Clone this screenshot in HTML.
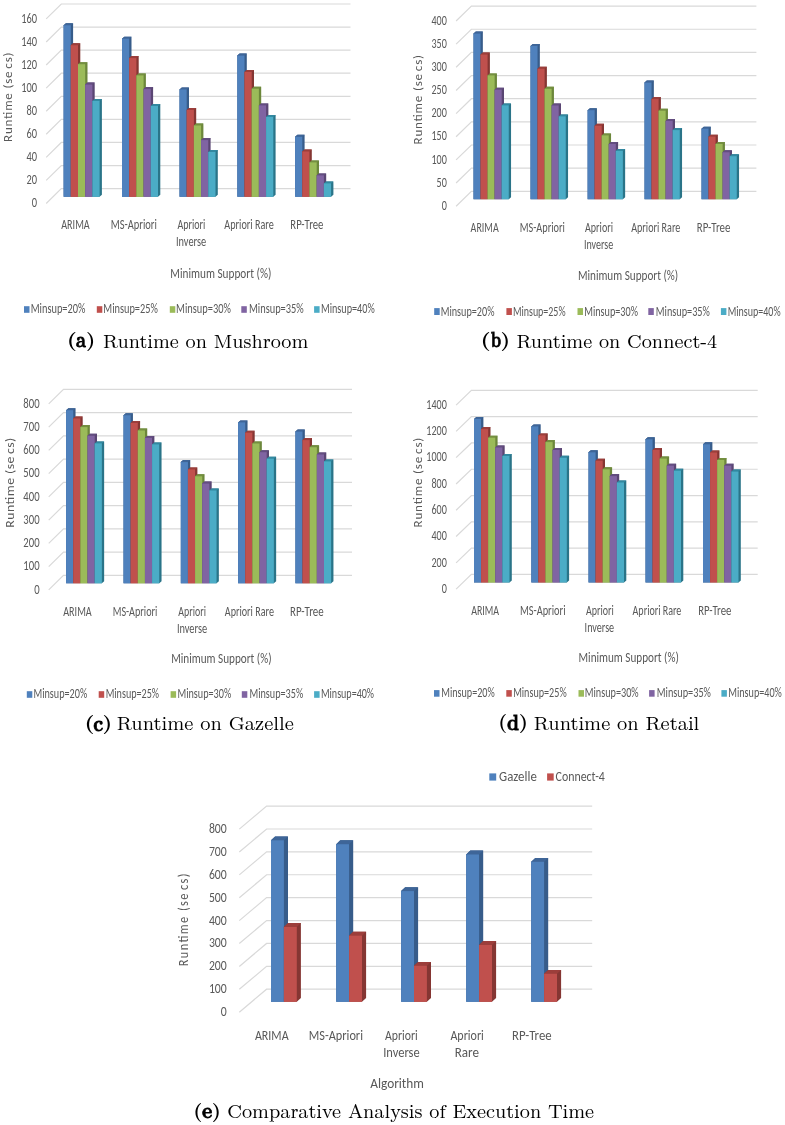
<!DOCTYPE html>
<html><head><meta charset="utf-8"><title>Runtime comparison charts</title>
<style>
html,body{margin:0;padding:0;background:#fff;}
body{width:785px;height:1125px;overflow:hidden;}
svg{display:block;}
</style></head><body>
<svg width="785" height="1125" viewBox="0 0 785 1125">
<rect width="785" height="1125" fill="#fff"/>
<path d="M46.2 203.5L61.3 188.6H350.5M46.2 180.43L61.3 165.53H350.5M46.2 157.35L61.3 142.45H350.5M46.2 134.28L61.3 119.38H350.5M46.2 111.2L61.3 96.3H350.5M46.2 88.12L61.3 73.22H350.5M46.2 65.05L61.3 50.15H350.5M46.2 41.97L61.3 27.07H350.5M46.2 18.9L61.3 4H350.5" fill="none" stroke="#D9D9D9" stroke-width="1.2"/>
<path d="M63.6 25.3L65.9 23.3H73.1V194.8L70.8 196.8H63.6Z" fill="#375C8A"/><path d="M63.6 25.9V25.3L65.9 23.3H73.1L70.8 25.3V25.9Z" fill="#3E6598"/><rect x="63.6" y="25.3" width="7.2" height="171.5" fill="#4F81BD"/>
<path d="M70.8 45.2L73.1 43.2H80.3V194.8L78 196.8H70.8Z" fill="#853633"/><path d="M70.8 45.8V45.2L73.1 43.2H80.3L78 45.2V45.8Z" fill="#9C3E3B"/><rect x="70.8" y="45.2" width="7.2" height="151.6" fill="#C0504D"/>
<path d="M78 64.2L80.3 62.2H87.5V194.8L85.2 196.8H78Z" fill="#6C873B"/><path d="M78 64.8V64.2L80.3 62.2H87.5L85.2 64.2V64.8Z" fill="#748F40"/><rect x="78" y="64.2" width="7.2" height="132.6" fill="#9BBB59"/>
<path d="M85.2 84.6L87.5 82.6H94.7V194.8L92.4 196.8H85.2Z" fill="#5A4673"/><path d="M85.2 85.2V84.6L87.5 82.6H94.7L92.4 84.6V85.2Z" fill="#634D80"/><rect x="85.2" y="84.6" width="7.2" height="112.2" fill="#8064A2"/>
<path d="M92.4 100.9L94.7 98.9H101.9V194.8L99.6 196.8H92.4Z" fill="#2A7488"/><path d="M92.4 101.5V100.9L94.7 98.9H101.9L99.6 100.9V101.5Z" fill="#3288A0"/><rect x="92.4" y="100.9" width="7.2" height="95.9" fill="#4BACC6"/>
<path d="M122 38.7L124.3 36.7H131.5V194.8L129.2 196.8H122Z" fill="#375C8A"/><path d="M122 39.3V38.7L124.3 36.7H131.5L129.2 38.7V39.3Z" fill="#3E6598"/><rect x="122" y="38.7" width="7.2" height="158.1" fill="#4F81BD"/>
<path d="M129.2 58.1L131.5 56.1H138.7V194.8L136.4 196.8H129.2Z" fill="#853633"/><path d="M129.2 58.7V58.1L131.5 56.1H138.7L136.4 58.1V58.7Z" fill="#9C3E3B"/><rect x="129.2" y="58.1" width="7.2" height="138.7" fill="#C0504D"/>
<path d="M136.4 75.4L138.7 73.4H145.9V194.8L143.6 196.8H136.4Z" fill="#6C873B"/><path d="M136.4 76V75.4L138.7 73.4H145.9L143.6 75.4V76Z" fill="#748F40"/><rect x="136.4" y="75.4" width="7.2" height="121.4" fill="#9BBB59"/>
<path d="M143.6 89.1L145.9 87.1H153.1V194.8L150.8 196.8H143.6Z" fill="#5A4673"/><path d="M143.6 89.7V89.1L145.9 87.1H153.1L150.8 89.1V89.7Z" fill="#634D80"/><rect x="143.6" y="89.1" width="7.2" height="107.7" fill="#8064A2"/>
<path d="M150.8 106L153.1 104H160.3V194.8L158 196.8H150.8Z" fill="#2A7488"/><path d="M150.8 106.6V106L153.1 104H160.3L158 106V106.6Z" fill="#3288A0"/><rect x="150.8" y="106" width="7.2" height="90.8" fill="#4BACC6"/>
<path d="M179.5 89.5L181.8 87.5H189V194.8L186.7 196.8H179.5Z" fill="#375C8A"/><path d="M179.5 90.1V89.5L181.8 87.5H189L186.7 89.5V90.1Z" fill="#3E6598"/><rect x="179.5" y="89.5" width="7.2" height="107.3" fill="#4F81BD"/>
<path d="M186.7 109.9L189 107.9H196.2V194.8L193.9 196.8H186.7Z" fill="#853633"/><path d="M186.7 110.5V109.9L189 107.9H196.2L193.9 109.9V110.5Z" fill="#9C3E3B"/><rect x="186.7" y="109.9" width="7.2" height="86.9" fill="#C0504D"/>
<path d="M193.9 125.5L196.2 123.5H203.4V194.8L201.1 196.8H193.9Z" fill="#6C873B"/><path d="M193.9 126.1V125.5L196.2 123.5H203.4L201.1 125.5V126.1Z" fill="#748F40"/><rect x="193.9" y="125.5" width="7.2" height="71.3" fill="#9BBB59"/>
<path d="M201.1 140.1L203.4 138.1H210.6V194.8L208.3 196.8H201.1Z" fill="#5A4673"/><path d="M201.1 140.7V140.1L203.4 138.1H210.6L208.3 140.1V140.7Z" fill="#634D80"/><rect x="201.1" y="140.1" width="7.2" height="56.7" fill="#8064A2"/>
<path d="M208.3 152L210.6 150H217.8V194.8L215.5 196.8H208.3Z" fill="#2A7488"/><path d="M208.3 152.6V152L210.6 150H217.8L215.5 152V152.6Z" fill="#3288A0"/><rect x="208.3" y="152" width="7.2" height="44.8" fill="#4BACC6"/>
<path d="M237.3 55.6L239.6 53.6H246.8V194.8L244.5 196.8H237.3Z" fill="#375C8A"/><path d="M237.3 56.2V55.6L239.6 53.6H246.8L244.5 55.6V56.2Z" fill="#3E6598"/><rect x="237.3" y="55.6" width="7.2" height="141.2" fill="#4F81BD"/>
<path d="M244.5 72L246.8 70H254V194.8L251.7 196.8H244.5Z" fill="#853633"/><path d="M244.5 72.6V72L246.8 70H254L251.7 72V72.6Z" fill="#9C3E3B"/><rect x="244.5" y="72" width="7.2" height="124.8" fill="#C0504D"/>
<path d="M251.7 88.7L254 86.7H261.2V194.8L258.9 196.8H251.7Z" fill="#6C873B"/><path d="M251.7 89.3V88.7L254 86.7H261.2L258.9 88.7V89.3Z" fill="#748F40"/><rect x="251.7" y="88.7" width="7.2" height="108.1" fill="#9BBB59"/>
<path d="M258.9 105.4L261.2 103.4H268.4V194.8L266.1 196.8H258.9Z" fill="#5A4673"/><path d="M258.9 106V105.4L261.2 103.4H268.4L266.1 105.4V106Z" fill="#634D80"/><rect x="258.9" y="105.4" width="7.2" height="91.4" fill="#8064A2"/>
<path d="M266.1 116.9L268.4 114.9H275.6V194.8L273.3 196.8H266.1Z" fill="#2A7488"/><path d="M266.1 117.5V116.9L268.4 114.9H275.6L273.3 116.9V117.5Z" fill="#3288A0"/><rect x="266.1" y="116.9" width="7.2" height="79.9" fill="#4BACC6"/>
<path d="M295.1 136.8L297.4 134.8H304.6V194.8L302.3 196.8H295.1Z" fill="#375C8A"/><path d="M295.1 137.4V136.8L297.4 134.8H304.6L302.3 136.8V137.4Z" fill="#3E6598"/><rect x="295.1" y="136.8" width="7.2" height="60" fill="#4F81BD"/>
<path d="M302.3 151.5L304.6 149.5H311.8V194.8L309.5 196.8H302.3Z" fill="#853633"/><path d="M302.3 152.1V151.5L304.6 149.5H311.8L309.5 151.5V152.1Z" fill="#9C3E3B"/><rect x="302.3" y="151.5" width="7.2" height="45.3" fill="#C0504D"/>
<path d="M309.5 162.4L311.8 160.4H319V194.8L316.7 196.8H309.5Z" fill="#6C873B"/><path d="M309.5 163V162.4L311.8 160.4H319L316.7 162.4V163Z" fill="#748F40"/><rect x="309.5" y="162.4" width="7.2" height="34.4" fill="#9BBB59"/>
<path d="M316.7 175.4L319 173.4H326.2V194.8L323.9 196.8H316.7Z" fill="#5A4673"/><path d="M316.7 176V175.4L319 173.4H326.2L323.9 175.4V176Z" fill="#634D80"/><rect x="316.7" y="175.4" width="7.2" height="21.4" fill="#8064A2"/>
<path d="M323.9 183.4L326.2 181.4H333.4V194.8L331.1 196.8H323.9Z" fill="#2A7488"/><path d="M323.9 184V183.4L326.2 181.4H333.4L331.1 183.4V184Z" fill="#3288A0"/><rect x="323.9" y="183.4" width="7.2" height="13.4" fill="#4BACC6"/>
<rect x="24" y="306.2" width="5.5" height="6.6" fill="#4F81BD"/>
<rect x="96.8" y="306.2" width="5.5" height="6.6" fill="#C0504D"/>
<rect x="169.8" y="306.2" width="5.5" height="6.6" fill="#9BBB59"/>
<rect x="241.3" y="306.2" width="5.5" height="6.6" fill="#8064A2"/>
<rect x="314.1" y="306.2" width="5.5" height="6.6" fill="#4BACC6"/>
<path d="M456.1 206.2L471.4 191.3H756.4M456.1 183.05L471.4 168.15H756.4M456.1 159.9L471.4 145H756.4M456.1 136.75L471.4 121.85H756.4M456.1 113.6L471.4 98.7H756.4M456.1 90.45L471.4 75.55H756.4M456.1 67.3L471.4 52.4H756.4M456.1 44.15L471.4 29.25H756.4M456.1 21L471.4 6.1H756.4" fill="none" stroke="#D9D9D9" stroke-width="1.2"/>
<path d="M473.5 33.6L475.8 31.6H482.85V197.2L480.55 199.2H473.5Z" fill="#375C8A"/><path d="M473.5 34.2V33.6L475.8 31.6H482.85L480.55 33.6V34.2Z" fill="#3E6598"/><rect x="473.5" y="33.6" width="7.05" height="165.6" fill="#4F81BD"/>
<path d="M480.55 54.6L482.85 52.6H489.9V197.2L487.6 199.2H480.55Z" fill="#853633"/><path d="M480.55 55.2V54.6L482.85 52.6H489.9L487.6 54.6V55.2Z" fill="#9C3E3B"/><rect x="480.55" y="54.6" width="7.05" height="144.6" fill="#C0504D"/>
<path d="M487.6 75.4L489.9 73.4H496.95V197.2L494.65 199.2H487.6Z" fill="#6C873B"/><path d="M487.6 76V75.4L489.9 73.4H496.95L494.65 75.4V76Z" fill="#748F40"/><rect x="487.6" y="75.4" width="7.05" height="123.8" fill="#9BBB59"/>
<path d="M494.65 89.7L496.95 87.7H504V197.2L501.7 199.2H494.65Z" fill="#5A4673"/><path d="M494.65 90.3V89.7L496.95 87.7H504L501.7 89.7V90.3Z" fill="#634D80"/><rect x="494.65" y="89.7" width="7.05" height="109.5" fill="#8064A2"/>
<path d="M501.7 105.4L504 103.4H511.05V197.2L508.75 199.2H501.7Z" fill="#2A7488"/><path d="M501.7 106V105.4L504 103.4H511.05L508.75 105.4V106Z" fill="#3288A0"/><rect x="501.7" y="105.4" width="7.05" height="93.8" fill="#4BACC6"/>
<path d="M530.5 45.9L532.8 43.9H539.85V197.2L537.55 199.2H530.5Z" fill="#375C8A"/><path d="M530.5 46.5V45.9L532.8 43.9H539.85L537.55 45.9V46.5Z" fill="#3E6598"/><rect x="530.5" y="45.9" width="7.05" height="153.3" fill="#4F81BD"/>
<path d="M537.55 68.8L539.85 66.8H546.9V197.2L544.6 199.2H537.55Z" fill="#853633"/><path d="M537.55 69.4V68.8L539.85 66.8H546.9L544.6 68.8V69.4Z" fill="#9C3E3B"/><rect x="537.55" y="68.8" width="7.05" height="130.4" fill="#C0504D"/>
<path d="M544.6 88.8L546.9 86.8H553.95V197.2L551.65 199.2H544.6Z" fill="#6C873B"/><path d="M544.6 89.4V88.8L546.9 86.8H553.95L551.65 88.8V89.4Z" fill="#748F40"/><rect x="544.6" y="88.8" width="7.05" height="110.4" fill="#9BBB59"/>
<path d="M551.65 105.5L553.95 103.5H561V197.2L558.7 199.2H551.65Z" fill="#5A4673"/><path d="M551.65 106.1V105.5L553.95 103.5H561L558.7 105.5V106.1Z" fill="#634D80"/><rect x="551.65" y="105.5" width="7.05" height="93.7" fill="#8064A2"/>
<path d="M558.7 116.4L561 114.4H568.05V197.2L565.75 199.2H558.7Z" fill="#2A7488"/><path d="M558.7 117V116.4L561 114.4H568.05L565.75 116.4V117Z" fill="#3288A0"/><rect x="558.7" y="116.4" width="7.05" height="82.8" fill="#4BACC6"/>
<path d="M587.6 110.2L589.9 108.2H596.95V197.2L594.65 199.2H587.6Z" fill="#375C8A"/><path d="M587.6 110.8V110.2L589.9 108.2H596.95L594.65 110.2V110.8Z" fill="#3E6598"/><rect x="587.6" y="110.2" width="7.05" height="89" fill="#4F81BD"/>
<path d="M594.65 125.8L596.95 123.8H604V197.2L601.7 199.2H594.65Z" fill="#853633"/><path d="M594.65 126.4V125.8L596.95 123.8H604L601.7 125.8V126.4Z" fill="#9C3E3B"/><rect x="594.65" y="125.8" width="7.05" height="73.4" fill="#C0504D"/>
<path d="M601.7 135.4L604 133.4H611.05V197.2L608.75 199.2H601.7Z" fill="#6C873B"/><path d="M601.7 136V135.4L604 133.4H611.05L608.75 135.4V136Z" fill="#748F40"/><rect x="601.7" y="135.4" width="7.05" height="63.8" fill="#9BBB59"/>
<path d="M608.75 144L611.05 142H618.1V197.2L615.8 199.2H608.75Z" fill="#5A4673"/><path d="M608.75 144.6V144L611.05 142H618.1L615.8 144V144.6Z" fill="#634D80"/><rect x="608.75" y="144" width="7.05" height="55.2" fill="#8064A2"/>
<path d="M615.8 150.9L618.1 148.9H625.15V197.2L622.85 199.2H615.8Z" fill="#2A7488"/><path d="M615.8 151.5V150.9L618.1 148.9H625.15L622.85 150.9V151.5Z" fill="#3288A0"/><rect x="615.8" y="150.9" width="7.05" height="48.3" fill="#4BACC6"/>
<path d="M644.5 82.6L646.8 80.6H653.85V197.2L651.55 199.2H644.5Z" fill="#375C8A"/><path d="M644.5 83.2V82.6L646.8 80.6H653.85L651.55 82.6V83.2Z" fill="#3E6598"/><rect x="644.5" y="82.6" width="7.05" height="116.6" fill="#4F81BD"/>
<path d="M651.55 99.1L653.85 97.1H660.9V197.2L658.6 199.2H651.55Z" fill="#853633"/><path d="M651.55 99.7V99.1L653.85 97.1H660.9L658.6 99.1V99.7Z" fill="#9C3E3B"/><rect x="651.55" y="99.1" width="7.05" height="100.1" fill="#C0504D"/>
<path d="M658.6 110.7L660.9 108.7H667.95V197.2L665.65 199.2H658.6Z" fill="#6C873B"/><path d="M658.6 111.3V110.7L660.9 108.7H667.95L665.65 110.7V111.3Z" fill="#748F40"/><rect x="658.6" y="110.7" width="7.05" height="88.5" fill="#9BBB59"/>
<path d="M665.65 120.9L667.95 118.9H675V197.2L672.7 199.2H665.65Z" fill="#5A4673"/><path d="M665.65 121.5V120.9L667.95 118.9H675L672.7 120.9V121.5Z" fill="#634D80"/><rect x="665.65" y="120.9" width="7.05" height="78.3" fill="#8064A2"/>
<path d="M672.7 130.1L675 128.1H682.05V197.2L679.75 199.2H672.7Z" fill="#2A7488"/><path d="M672.7 130.7V130.1L675 128.1H682.05L679.75 130.1V130.7Z" fill="#3288A0"/><rect x="672.7" y="130.1" width="7.05" height="69.1" fill="#4BACC6"/>
<path d="M701.5 128.7L703.8 126.7H710.85V197.2L708.55 199.2H701.5Z" fill="#375C8A"/><path d="M701.5 129.3V128.7L703.8 126.7H710.85L708.55 128.7V129.3Z" fill="#3E6598"/><rect x="701.5" y="128.7" width="7.05" height="70.5" fill="#4F81BD"/>
<path d="M708.55 136.7L710.85 134.7H717.9V197.2L715.6 199.2H708.55Z" fill="#853633"/><path d="M708.55 137.3V136.7L710.85 134.7H717.9L715.6 136.7V137.3Z" fill="#9C3E3B"/><rect x="708.55" y="136.7" width="7.05" height="62.5" fill="#C0504D"/>
<path d="M715.6 144L717.9 142H724.95V197.2L722.65 199.2H715.6Z" fill="#6C873B"/><path d="M715.6 144.6V144L717.9 142H724.95L722.65 144V144.6Z" fill="#748F40"/><rect x="715.6" y="144" width="7.05" height="55.2" fill="#9BBB59"/>
<path d="M722.65 152.3L724.95 150.3H732V197.2L729.7 199.2H722.65Z" fill="#5A4673"/><path d="M722.65 152.9V152.3L724.95 150.3H732L729.7 152.3V152.9Z" fill="#634D80"/><rect x="722.65" y="152.3" width="7.05" height="46.9" fill="#8064A2"/>
<path d="M729.7 156.2L732 154.2H739.05V197.2L736.75 199.2H729.7Z" fill="#2A7488"/><path d="M729.7 156.8V156.2L732 154.2H739.05L736.75 156.2V156.8Z" fill="#3288A0"/><rect x="729.7" y="156.2" width="7.05" height="43" fill="#4BACC6"/>
<rect x="434.2" y="308.1" width="5.5" height="6.9" fill="#4F81BD"/>
<rect x="506.4" y="308.1" width="5.5" height="6.9" fill="#C0504D"/>
<rect x="577.5" y="308.1" width="5.5" height="6.9" fill="#9BBB59"/>
<rect x="648.3" y="308.1" width="5.5" height="6.9" fill="#8064A2"/>
<rect x="720.9" y="308.1" width="5.5" height="6.9" fill="#4BACC6"/>
<path d="M48.7 589.9L63.5 575.3H352M48.7 566.65L63.5 552.05H352M48.7 543.4L63.5 528.8H352M48.7 520.15L63.5 505.55H352M48.7 496.9L63.5 482.3H352M48.7 473.65L63.5 459.05H352M48.7 450.4L63.5 435.8H352M48.7 427.15L63.5 412.55H352M48.7 403.9L63.5 389.3H352" fill="none" stroke="#D9D9D9" stroke-width="1.2"/>
<path d="M66.1 410.2L68.4 408.2H75.55V581.3L73.25 583.3H66.1Z" fill="#375C8A"/><path d="M66.1 410.8V410.2L68.4 408.2H75.55L73.25 410.2V410.8Z" fill="#3E6598"/><rect x="66.1" y="410.2" width="7.15" height="173.1" fill="#4F81BD"/>
<path d="M73.25 418.5L75.55 416.5H82.7V581.3L80.4 583.3H73.25Z" fill="#853633"/><path d="M73.25 419.1V418.5L75.55 416.5H82.7L80.4 418.5V419.1Z" fill="#9C3E3B"/><rect x="73.25" y="418.5" width="7.15" height="164.8" fill="#C0504D"/>
<path d="M80.4 427.1L82.7 425.1H89.85V581.3L87.55 583.3H80.4Z" fill="#6C873B"/><path d="M80.4 427.7V427.1L82.7 425.1H89.85L87.55 427.1V427.7Z" fill="#748F40"/><rect x="80.4" y="427.1" width="7.15" height="156.2" fill="#9BBB59"/>
<path d="M87.55 435.8L89.85 433.8H97V581.3L94.7 583.3H87.55Z" fill="#5A4673"/><path d="M87.55 436.4V435.8L89.85 433.8H97L94.7 435.8V436.4Z" fill="#634D80"/><rect x="87.55" y="435.8" width="7.15" height="147.5" fill="#8064A2"/>
<path d="M94.7 443.4L97 441.4H104.15V581.3L101.85 583.3H94.7Z" fill="#2A7488"/><path d="M94.7 444V443.4L97 441.4H104.15L101.85 443.4V444Z" fill="#3288A0"/><rect x="94.7" y="443.4" width="7.15" height="139.9" fill="#4BACC6"/>
<path d="M123.5 415.3L125.8 413.3H132.95V581.3L130.65 583.3H123.5Z" fill="#375C8A"/><path d="M123.5 415.9V415.3L125.8 413.3H132.95L130.65 415.3V415.9Z" fill="#3E6598"/><rect x="123.5" y="415.3" width="7.15" height="168" fill="#4F81BD"/>
<path d="M130.65 423L132.95 421H140.1V581.3L137.8 583.3H130.65Z" fill="#853633"/><path d="M130.65 423.6V423L132.95 421H140.1L137.8 423V423.6Z" fill="#9C3E3B"/><rect x="130.65" y="423" width="7.15" height="160.3" fill="#C0504D"/>
<path d="M137.8 430.5L140.1 428.5H147.25V581.3L144.95 583.3H137.8Z" fill="#6C873B"/><path d="M137.8 431.1V430.5L140.1 428.5H147.25L144.95 430.5V431.1Z" fill="#748F40"/><rect x="137.8" y="430.5" width="7.15" height="152.8" fill="#9BBB59"/>
<path d="M144.95 437.9L147.25 435.9H154.4V581.3L152.1 583.3H144.95Z" fill="#5A4673"/><path d="M144.95 438.5V437.9L147.25 435.9H154.4L152.1 437.9V438.5Z" fill="#634D80"/><rect x="144.95" y="437.9" width="7.15" height="145.4" fill="#8064A2"/>
<path d="M152.1 444.4L154.4 442.4H161.55V581.3L159.25 583.3H152.1Z" fill="#2A7488"/><path d="M152.1 445V444.4L154.4 442.4H161.55L159.25 444.4V445Z" fill="#3288A0"/><rect x="152.1" y="444.4" width="7.15" height="138.9" fill="#4BACC6"/>
<path d="M180.8 462.1L183.1 460.1H190.25V581.3L187.95 583.3H180.8Z" fill="#375C8A"/><path d="M180.8 462.7V462.1L183.1 460.1H190.25L187.95 462.1V462.7Z" fill="#3E6598"/><rect x="180.8" y="462.1" width="7.15" height="121.2" fill="#4F81BD"/>
<path d="M187.95 469.4L190.25 467.4H197.4V581.3L195.1 583.3H187.95Z" fill="#853633"/><path d="M187.95 470V469.4L190.25 467.4H197.4L195.1 469.4V470Z" fill="#9C3E3B"/><rect x="187.95" y="469.4" width="7.15" height="113.9" fill="#C0504D"/>
<path d="M195.1 476.3L197.4 474.3H204.55V581.3L202.25 583.3H195.1Z" fill="#6C873B"/><path d="M195.1 476.9V476.3L197.4 474.3H204.55L202.25 476.3V476.9Z" fill="#748F40"/><rect x="195.1" y="476.3" width="7.15" height="107" fill="#9BBB59"/>
<path d="M202.25 483.6L204.55 481.6H211.7V581.3L209.4 583.3H202.25Z" fill="#5A4673"/><path d="M202.25 484.2V483.6L204.55 481.6H211.7L209.4 483.6V484.2Z" fill="#634D80"/><rect x="202.25" y="483.6" width="7.15" height="99.7" fill="#8064A2"/>
<path d="M209.4 490.5L211.7 488.5H218.85V581.3L216.55 583.3H209.4Z" fill="#2A7488"/><path d="M209.4 491.1V490.5L211.7 488.5H218.85L216.55 490.5V491.1Z" fill="#3288A0"/><rect x="209.4" y="490.5" width="7.15" height="92.8" fill="#4BACC6"/>
<path d="M238.1 422.4L240.4 420.4H247.55V581.3L245.25 583.3H238.1Z" fill="#375C8A"/><path d="M238.1 423V422.4L240.4 420.4H247.55L245.25 422.4V423Z" fill="#3E6598"/><rect x="238.1" y="422.4" width="7.15" height="160.9" fill="#4F81BD"/>
<path d="M245.25 432.7L247.55 430.7H254.7V581.3L252.4 583.3H245.25Z" fill="#853633"/><path d="M245.25 433.3V432.7L247.55 430.7H254.7L252.4 432.7V433.3Z" fill="#9C3E3B"/><rect x="245.25" y="432.7" width="7.15" height="150.6" fill="#C0504D"/>
<path d="M252.4 443.5L254.7 441.5H261.85V581.3L259.55 583.3H252.4Z" fill="#6C873B"/><path d="M252.4 444.1V443.5L254.7 441.5H261.85L259.55 443.5V444.1Z" fill="#748F40"/><rect x="252.4" y="443.5" width="7.15" height="139.8" fill="#9BBB59"/>
<path d="M259.55 452.2L261.85 450.2H269V581.3L266.7 583.3H259.55Z" fill="#5A4673"/><path d="M259.55 452.8V452.2L261.85 450.2H269L266.7 452.2V452.8Z" fill="#634D80"/><rect x="259.55" y="452.2" width="7.15" height="131.1" fill="#8064A2"/>
<path d="M266.7 458.7L269 456.7H276.15V581.3L273.85 583.3H266.7Z" fill="#2A7488"/><path d="M266.7 459.3V458.7L269 456.7H276.15L273.85 458.7V459.3Z" fill="#3288A0"/><rect x="266.7" y="458.7" width="7.15" height="124.6" fill="#4BACC6"/>
<path d="M295.4 431.6L297.7 429.6H304.85V581.3L302.55 583.3H295.4Z" fill="#375C8A"/><path d="M295.4 432.2V431.6L297.7 429.6H304.85L302.55 431.6V432.2Z" fill="#3E6598"/><rect x="295.4" y="431.6" width="7.15" height="151.7" fill="#4F81BD"/>
<path d="M302.55 440.1L304.85 438.1H312V581.3L309.7 583.3H302.55Z" fill="#853633"/><path d="M302.55 440.7V440.1L304.85 438.1H312L309.7 440.1V440.7Z" fill="#9C3E3B"/><rect x="302.55" y="440.1" width="7.15" height="143.2" fill="#C0504D"/>
<path d="M309.7 447.2L312 445.2H319.15V581.3L316.85 583.3H309.7Z" fill="#6C873B"/><path d="M309.7 447.8V447.2L312 445.2H319.15L316.85 447.2V447.8Z" fill="#748F40"/><rect x="309.7" y="447.2" width="7.15" height="136.1" fill="#9BBB59"/>
<path d="M316.85 454.5L319.15 452.5H326.3V581.3L324 583.3H316.85Z" fill="#5A4673"/><path d="M316.85 455.1V454.5L319.15 452.5H326.3L324 454.5V455.1Z" fill="#634D80"/><rect x="316.85" y="454.5" width="7.15" height="128.8" fill="#8064A2"/>
<path d="M324 461.4L326.3 459.4H333.45V581.3L331.15 583.3H324Z" fill="#2A7488"/><path d="M324 462V461.4L326.3 459.4H333.45L331.15 461.4V462Z" fill="#3288A0"/><rect x="324" y="461.4" width="7.15" height="121.9" fill="#4BACC6"/>
<rect x="26.8" y="691.2" width="5.5" height="6.6" fill="#4F81BD"/>
<rect x="98.7" y="691.2" width="5.5" height="6.6" fill="#C0504D"/>
<rect x="170.6" y="691.2" width="5.5" height="6.6" fill="#9BBB59"/>
<rect x="241.8" y="691.2" width="5.5" height="6.6" fill="#8064A2"/>
<rect x="314.1" y="691.2" width="5.5" height="6.6" fill="#4BACC6"/>
<path d="M456.1 589.1L471.4 574.4H757.7M456.1 562.81L471.4 548.11H757.7M456.1 536.53L471.4 521.83H757.7M456.1 510.24L471.4 495.54H757.7M456.1 483.96L471.4 469.26H757.7M456.1 457.67L471.4 442.97H757.7M456.1 431.39L471.4 416.69H757.7M456.1 405.1L471.4 390.4H757.7" fill="none" stroke="#D9D9D9" stroke-width="1.2"/>
<path d="M474 418.9L476.3 416.9H483.4V580.4L481.1 582.4H474Z" fill="#375C8A"/><path d="M474 419.5V418.9L476.3 416.9H483.4L481.1 418.9V419.5Z" fill="#3E6598"/><rect x="474" y="418.9" width="7.1" height="163.5" fill="#4F81BD"/>
<path d="M481.1 429.1L483.4 427.1H490.5V580.4L488.2 582.4H481.1Z" fill="#853633"/><path d="M481.1 429.7V429.1L483.4 427.1H490.5L488.2 429.1V429.7Z" fill="#9C3E3B"/><rect x="481.1" y="429.1" width="7.1" height="153.3" fill="#C0504D"/>
<path d="M488.2 437.7L490.5 435.7H497.6V580.4L495.3 582.4H488.2Z" fill="#6C873B"/><path d="M488.2 438.3V437.7L490.5 435.7H497.6L495.3 437.7V438.3Z" fill="#748F40"/><rect x="488.2" y="437.7" width="7.1" height="144.7" fill="#9BBB59"/>
<path d="M495.3 447.5L497.6 445.5H504.7V580.4L502.4 582.4H495.3Z" fill="#5A4673"/><path d="M495.3 448.1V447.5L497.6 445.5H504.7L502.4 447.5V448.1Z" fill="#634D80"/><rect x="495.3" y="447.5" width="7.1" height="134.9" fill="#8064A2"/>
<path d="M502.4 456L504.7 454H511.8V580.4L509.5 582.4H502.4Z" fill="#2A7488"/><path d="M502.4 456.6V456L504.7 454H511.8L509.5 456V456.6Z" fill="#3288A0"/><rect x="502.4" y="456" width="7.1" height="126.4" fill="#4BACC6"/>
<path d="M531.3 426.4L533.6 424.4H540.7V580.4L538.4 582.4H531.3Z" fill="#375C8A"/><path d="M531.3 427V426.4L533.6 424.4H540.7L538.4 426.4V427Z" fill="#3E6598"/><rect x="531.3" y="426.4" width="7.1" height="156" fill="#4F81BD"/>
<path d="M538.4 435.4L540.7 433.4H547.8V580.4L545.5 582.4H538.4Z" fill="#853633"/><path d="M538.4 436V435.4L540.7 433.4H547.8L545.5 435.4V436Z" fill="#9C3E3B"/><rect x="538.4" y="435.4" width="7.1" height="147" fill="#C0504D"/>
<path d="M545.5 442.1L547.8 440.1H554.9V580.4L552.6 582.4H545.5Z" fill="#6C873B"/><path d="M545.5 442.7V442.1L547.8 440.1H554.9L552.6 442.1V442.7Z" fill="#748F40"/><rect x="545.5" y="442.1" width="7.1" height="140.3" fill="#9BBB59"/>
<path d="M552.6 450L554.9 448H562V580.4L559.7 582.4H552.6Z" fill="#5A4673"/><path d="M552.6 450.6V450L554.9 448H562L559.7 450V450.6Z" fill="#634D80"/><rect x="552.6" y="450" width="7.1" height="132.4" fill="#8064A2"/>
<path d="M559.7 457.8L562 455.8H569.1V580.4L566.8 582.4H559.7Z" fill="#2A7488"/><path d="M559.7 458.4V457.8L562 455.8H569.1L566.8 457.8V458.4Z" fill="#3288A0"/><rect x="559.7" y="457.8" width="7.1" height="124.6" fill="#4BACC6"/>
<path d="M588.5 452.3L590.8 450.3H597.9V580.4L595.6 582.4H588.5Z" fill="#375C8A"/><path d="M588.5 452.9V452.3L590.8 450.3H597.9L595.6 452.3V452.9Z" fill="#3E6598"/><rect x="588.5" y="452.3" width="7.1" height="130.1" fill="#4F81BD"/>
<path d="M595.6 460.8L597.9 458.8H605V580.4L602.7 582.4H595.6Z" fill="#853633"/><path d="M595.6 461.4V460.8L597.9 458.8H605L602.7 460.8V461.4Z" fill="#9C3E3B"/><rect x="595.6" y="460.8" width="7.1" height="121.6" fill="#C0504D"/>
<path d="M602.7 469.3L605 467.3H612.1V580.4L609.8 582.4H602.7Z" fill="#6C873B"/><path d="M602.7 469.9V469.3L605 467.3H612.1L609.8 469.3V469.9Z" fill="#748F40"/><rect x="602.7" y="469.3" width="7.1" height="113.1" fill="#9BBB59"/>
<path d="M609.8 476.1L612.1 474.1H619.2V580.4L616.9 582.4H609.8Z" fill="#5A4673"/><path d="M609.8 476.7V476.1L612.1 474.1H619.2L616.9 476.1V476.7Z" fill="#634D80"/><rect x="609.8" y="476.1" width="7.1" height="106.3" fill="#8064A2"/>
<path d="M616.9 482.5L619.2 480.5H626.3V580.4L624 582.4H616.9Z" fill="#2A7488"/><path d="M616.9 483.1V482.5L619.2 480.5H626.3L624 482.5V483.1Z" fill="#3288A0"/><rect x="616.9" y="482.5" width="7.1" height="99.9" fill="#4BACC6"/>
<path d="M645.5 439.3L647.8 437.3H654.9V580.4L652.6 582.4H645.5Z" fill="#375C8A"/><path d="M645.5 439.9V439.3L647.8 437.3H654.9L652.6 439.3V439.9Z" fill="#3E6598"/><rect x="645.5" y="439.3" width="7.1" height="143.1" fill="#4F81BD"/>
<path d="M652.6 449.9L654.9 447.9H662V580.4L659.7 582.4H652.6Z" fill="#853633"/><path d="M652.6 450.5V449.9L654.9 447.9H662L659.7 449.9V450.5Z" fill="#9C3E3B"/><rect x="652.6" y="449.9" width="7.1" height="132.5" fill="#C0504D"/>
<path d="M659.7 458.6L662 456.6H669.1V580.4L666.8 582.4H659.7Z" fill="#6C873B"/><path d="M659.7 459.2V458.6L662 456.6H669.1L666.8 458.6V459.2Z" fill="#748F40"/><rect x="659.7" y="458.6" width="7.1" height="123.8" fill="#9BBB59"/>
<path d="M666.8 465.7L669.1 463.7H676.2V580.4L673.9 582.4H666.8Z" fill="#5A4673"/><path d="M666.8 466.3V465.7L669.1 463.7H676.2L673.9 465.7V466.3Z" fill="#634D80"/><rect x="666.8" y="465.7" width="7.1" height="116.7" fill="#8064A2"/>
<path d="M673.9 470.7L676.2 468.7H683.3V580.4L681 582.4H673.9Z" fill="#2A7488"/><path d="M673.9 471.3V470.7L676.2 468.7H683.3L681 470.7V471.3Z" fill="#3288A0"/><rect x="673.9" y="470.7" width="7.1" height="111.7" fill="#4BACC6"/>
<path d="M703 444.3L705.3 442.3H712.4V580.4L710.1 582.4H703Z" fill="#375C8A"/><path d="M703 444.9V444.3L705.3 442.3H712.4L710.1 444.3V444.9Z" fill="#3E6598"/><rect x="703" y="444.3" width="7.1" height="138.1" fill="#4F81BD"/>
<path d="M710.1 452.6L712.4 450.6H719.5V580.4L717.2 582.4H710.1Z" fill="#853633"/><path d="M710.1 453.2V452.6L712.4 450.6H719.5L717.2 452.6V453.2Z" fill="#9C3E3B"/><rect x="710.1" y="452.6" width="7.1" height="129.8" fill="#C0504D"/>
<path d="M717.2 460L719.5 458H726.6V580.4L724.3 582.4H717.2Z" fill="#6C873B"/><path d="M717.2 460.6V460L719.5 458H726.6L724.3 460V460.6Z" fill="#748F40"/><rect x="717.2" y="460" width="7.1" height="122.4" fill="#9BBB59"/>
<path d="M724.3 465.7L726.6 463.7H733.7V580.4L731.4 582.4H724.3Z" fill="#5A4673"/><path d="M724.3 466.3V465.7L726.6 463.7H733.7L731.4 465.7V466.3Z" fill="#634D80"/><rect x="724.3" y="465.7" width="7.1" height="116.7" fill="#8064A2"/>
<path d="M731.4 471.6L733.7 469.6H740.8V580.4L738.5 582.4H731.4Z" fill="#2A7488"/><path d="M731.4 472.2V471.6L733.7 469.6H740.8L738.5 471.6V472.2Z" fill="#3288A0"/><rect x="731.4" y="471.6" width="7.1" height="110.8" fill="#4BACC6"/>
<rect x="434" y="690.1" width="5.5" height="6.6" fill="#4F81BD"/>
<rect x="506.3" y="690.1" width="5.5" height="6.6" fill="#C0504D"/>
<rect x="578.5" y="690.1" width="5.5" height="6.6" fill="#9BBB59"/>
<rect x="649.1" y="690.1" width="5.5" height="6.6" fill="#8064A2"/>
<rect x="721.4" y="690.1" width="5.5" height="6.6" fill="#4BACC6"/>
<path d="M239.3 1012.2L266.6 989.2H592.2M239.3 989.31L266.6 966.31H592.2M239.3 966.43L266.6 943.43H592.2M239.3 943.54L266.6 920.54H592.2M239.3 920.65L266.6 897.65H592.2M239.3 897.76L266.6 874.76H592.2M239.3 874.88L266.6 851.88H592.2M239.3 851.99L266.6 828.99H592.2M239.3 829.1L266.6 806.1H592.2" fill="none" stroke="#D9D9D9" stroke-width="1.2"/>
<path d="M271 840.3L275.1 836.4H288V997.9L283.9 1001.8H271Z" fill="#375C8A"/><path d="M271 840.9V840.3L275.1 836.4H288L283.9 840.3V840.9Z" fill="#3E6598"/><rect x="271" y="840.3" width="12.9" height="161.5" fill="#4F81BD"/>
<path d="M283.9 927L288 923.1H300.9V997.9L296.8 1001.8H283.9Z" fill="#853633"/><path d="M283.9 927.6V927L288 923.1H300.9L296.8 927V927.6Z" fill="#9C3E3B"/><rect x="283.9" y="927" width="12.9" height="74.8" fill="#C0504D"/>
<path d="M336.2 844.2L340.3 840.3H353.2V997.9L349.1 1001.8H336.2Z" fill="#375C8A"/><path d="M336.2 844.8V844.2L340.3 840.3H353.2L349.1 844.2V844.8Z" fill="#3E6598"/><rect x="336.2" y="844.2" width="12.9" height="157.6" fill="#4F81BD"/>
<path d="M349.1 935.7L353.2 931.8H366.1V997.9L362 1001.8H349.1Z" fill="#853633"/><path d="M349.1 936.3V935.7L353.2 931.8H366.1L362 935.7V936.3Z" fill="#9C3E3B"/><rect x="349.1" y="935.7" width="12.9" height="66.1" fill="#C0504D"/>
<path d="M401.1 891.1L405.2 887.2H418.1V997.9L414 1001.8H401.1Z" fill="#375C8A"/><path d="M401.1 891.7V891.1L405.2 887.2H418.1L414 891.1V891.7Z" fill="#3E6598"/><rect x="401.1" y="891.1" width="12.9" height="110.7" fill="#4F81BD"/>
<path d="M414 965.8L418.1 961.9H431V997.9L426.9 1001.8H414Z" fill="#853633"/><path d="M414 966.4V965.8L418.1 961.9H431L426.9 965.8V966.4Z" fill="#9C3E3B"/><rect x="414" y="965.8" width="12.9" height="36" fill="#C0504D"/>
<path d="M466.2 854.5L470.3 850.6H483.2V997.9L479.1 1001.8H466.2Z" fill="#375C8A"/><path d="M466.2 855.1V854.5L470.3 850.6H483.2L479.1 854.5V855.1Z" fill="#3E6598"/><rect x="466.2" y="854.5" width="12.9" height="147.3" fill="#4F81BD"/>
<path d="M479.1 945L483.2 941.1H496.1V997.9L492 1001.8H479.1Z" fill="#853633"/><path d="M479.1 945.6V945L483.2 941.1H496.1L492 945V945.6Z" fill="#9C3E3B"/><rect x="479.1" y="945" width="12.9" height="56.8" fill="#C0504D"/>
<path d="M531.2 861.8L535.3 857.9H548.2V997.9L544.1 1001.8H531.2Z" fill="#375C8A"/><path d="M531.2 862.4V861.8L535.3 857.9H548.2L544.1 861.8V862.4Z" fill="#3E6598"/><rect x="531.2" y="861.8" width="12.9" height="140" fill="#4F81BD"/>
<path d="M544.1 973.8L548.2 969.9H561.1V997.9L557 1001.8H544.1Z" fill="#853633"/><path d="M544.1 974.4V973.8L548.2 969.9H561.1L557 973.8V974.4Z" fill="#9C3E3B"/><rect x="544.1" y="973.8" width="12.9" height="28" fill="#C0504D"/>
<rect x="489.3" y="773.4" width="6.9" height="7.2" fill="#4F81BD"/>
<rect x="547.1" y="773.4" width="6.6" height="7.2" fill="#C0504D"/>
<text x="61.2" y="229.4" font-size="13.2" fill="#595959" textLength="28.51" lengthAdjust="spacingAndGlyphs" style="font-family:Carlito, 'Liberation Sans', sans-serif;font-size-adjust:cap-height 0.642;">ARIMA</text>
<text x="110.82" y="229.4" font-size="13.2" fill="#595959" textLength="46.1" lengthAdjust="spacingAndGlyphs" style="font-family:Carlito, 'Liberation Sans', sans-serif;font-size-adjust:cap-height 0.642;">MS-Apriori</text>
<text x="177.39" y="229.4" font-size="13.2" fill="#595959" textLength="28.02" lengthAdjust="spacingAndGlyphs" style="font-family:Carlito, 'Liberation Sans', sans-serif;font-size-adjust:cap-height 0.642;">Apriori</text>
<text x="176.02" y="246.2" font-size="13.2" fill="#595959" textLength="30.15" lengthAdjust="spacingAndGlyphs" style="font-family:Carlito, 'Liberation Sans', sans-serif;font-size-adjust:cap-height 0.642;">Inverse</text>
<text x="224.3" y="229.4" font-size="13.2" fill="#595959" textLength="49.56" lengthAdjust="spacingAndGlyphs" style="font-family:Carlito, 'Liberation Sans', sans-serif;font-size-adjust:cap-height 0.642;">Apriori Rare</text>
<text x="290.33" y="229.4" font-size="13.2" fill="#595959" textLength="33.04" lengthAdjust="spacingAndGlyphs" style="font-family:Carlito, 'Liberation Sans', sans-serif;font-size-adjust:cap-height 0.642;">RP-Tree</text>
<text x="170.33" y="277.8" font-size="13.2" fill="#595959" textLength="101.03" lengthAdjust="spacingAndGlyphs" style="font-family:Carlito, 'Liberation Sans', sans-serif;font-size-adjust:cap-height 0.642;">Minimum Support (%)</text>
<text x="30.74" y="313.2" font-size="13.2" fill="#595959" textLength="54.72" lengthAdjust="spacingAndGlyphs" style="font-family:Carlito, 'Liberation Sans', sans-serif;font-size-adjust:cap-height 0.642;">Minsup=20%</text>
<text x="103.33" y="313.2" font-size="13.2" fill="#595959" textLength="54.53" lengthAdjust="spacingAndGlyphs" style="font-family:Carlito, 'Liberation Sans', sans-serif;font-size-adjust:cap-height 0.642;">Minsup=25%</text>
<text x="176.03" y="313.2" font-size="13.2" fill="#595959" textLength="54.82" lengthAdjust="spacingAndGlyphs" style="font-family:Carlito, 'Liberation Sans', sans-serif;font-size-adjust:cap-height 0.642;">Minsup=30%</text>
<text x="248.93" y="313.2" font-size="13.2" fill="#595959" textLength="54.82" lengthAdjust="spacingAndGlyphs" style="font-family:Carlito, 'Liberation Sans', sans-serif;font-size-adjust:cap-height 0.642;">Minsup=35%</text>
<text x="320.93" y="313.2" font-size="13.2" fill="#595959" textLength="53.73" lengthAdjust="spacingAndGlyphs" style="font-family:Carlito, 'Liberation Sans', sans-serif;font-size-adjust:cap-height 0.642;">Minsup=40%</text>
<text transform="translate(12.2 0) scale(0.91 1) rotate(-90)" x="-142" y="0" font-size="12.5" fill="#595959" textLength="89.5" lengthAdjust="spacing" style="font-family:Carlito, 'Liberation Sans', sans-serif;font-size-adjust:cap-height 0.642;">Runtime (se<tspan dx="2">cs)</tspan></text>
<text x="66.65" y="346.2" font-size="19" fill="#000" textLength="10.2" lengthAdjust="spacingAndGlyphs" style="font-family:'LM Roman 10', 'Latin Modern Roman', 'Liberation Serif', serif;font-size-adjust:cap-height 0.683;font-weight:bold;">(</text>
<text x="75.94" y="347.4" font-size="22" fill="#000" textLength="9.92" lengthAdjust="spacingAndGlyphs" style="font-family:'LM Roman 10', 'Latin Modern Roman', 'Liberation Serif', serif;font-size-adjust:cap-height 0.683;font-weight:bold;stroke:#000;stroke-width:0.8px;">a</text>
<text x="86.1" y="346.2" font-size="19" fill="#000" textLength="9.39" lengthAdjust="spacingAndGlyphs" style="font-family:'LM Roman 10', 'Latin Modern Roman', 'Liberation Serif', serif;font-size-adjust:cap-height 0.683;font-weight:bold;">)</text>
<text x="103.14" y="347.7" font-size="19" fill="#000" textLength="205.26" lengthAdjust="spacingAndGlyphs" style="font-family:'LM Roman 8', 'Latin Modern Roman', 'Liberation Serif', serif;font-size-adjust:cap-height 0.683;">Runtime on Mushroom</text>
<text x="470.6" y="231.7" font-size="13.2" fill="#595959" textLength="28.1" lengthAdjust="spacingAndGlyphs" style="font-family:Carlito, 'Liberation Sans', sans-serif;font-size-adjust:cap-height 0.642;">ARIMA</text>
<text x="519.73" y="231.7" font-size="13.2" fill="#595959" textLength="45.19" lengthAdjust="spacingAndGlyphs" style="font-family:Carlito, 'Liberation Sans', sans-serif;font-size-adjust:cap-height 0.642;">MS-Apriori</text>
<text x="585" y="231.7" font-size="13.2" fill="#595959" textLength="28.01" lengthAdjust="spacingAndGlyphs" style="font-family:Carlito, 'Liberation Sans', sans-serif;font-size-adjust:cap-height 0.642;">Apriori</text>
<text x="583.92" y="248.6" font-size="13.2" fill="#595959" textLength="29.25" lengthAdjust="spacingAndGlyphs" style="font-family:Carlito, 'Liberation Sans', sans-serif;font-size-adjust:cap-height 0.642;">Inverse</text>
<text x="631.2" y="231.7" font-size="13.2" fill="#595959" textLength="49.15" lengthAdjust="spacingAndGlyphs" style="font-family:Carlito, 'Liberation Sans', sans-serif;font-size-adjust:cap-height 0.642;">Apriori Rare</text>
<text x="696.73" y="231.7" font-size="13.2" fill="#595959" textLength="33.64" lengthAdjust="spacingAndGlyphs" style="font-family:Carlito, 'Liberation Sans', sans-serif;font-size-adjust:cap-height 0.642;">RP-Tree</text>
<text x="577.94" y="280" font-size="13.2" fill="#595959" textLength="100.23" lengthAdjust="spacingAndGlyphs" style="font-family:Carlito, 'Liberation Sans', sans-serif;font-size-adjust:cap-height 0.642;">Minimum Support (%)</text>
<text x="440.74" y="315.6" font-size="13.2" fill="#595959" textLength="53.72" lengthAdjust="spacingAndGlyphs" style="font-family:Carlito, 'Liberation Sans', sans-serif;font-size-adjust:cap-height 0.642;">Minsup=20%</text>
<text x="512.93" y="315.6" font-size="13.2" fill="#595959" textLength="52.63" lengthAdjust="spacingAndGlyphs" style="font-family:Carlito, 'Liberation Sans', sans-serif;font-size-adjust:cap-height 0.642;">Minsup=25%</text>
<text x="584.24" y="315.6" font-size="13.2" fill="#595959" textLength="53.72" lengthAdjust="spacingAndGlyphs" style="font-family:Carlito, 'Liberation Sans', sans-serif;font-size-adjust:cap-height 0.642;">Minsup=30%</text>
<text x="655.83" y="315.6" font-size="13.2" fill="#595959" textLength="54.03" lengthAdjust="spacingAndGlyphs" style="font-family:Carlito, 'Liberation Sans', sans-serif;font-size-adjust:cap-height 0.642;">Minsup=35%</text>
<text x="727.63" y="315.6" font-size="13.2" fill="#595959" textLength="52.92" lengthAdjust="spacingAndGlyphs" style="font-family:Carlito, 'Liberation Sans', sans-serif;font-size-adjust:cap-height 0.642;">Minsup=40%</text>
<text transform="translate(422.45 0) scale(0.92 1) rotate(-90)" x="-144.5" y="0" font-size="12.5" fill="#595959" textLength="89.5" lengthAdjust="spacing" style="font-family:Carlito, 'Liberation Sans', sans-serif;font-size-adjust:cap-height 0.642;">Runtime (se<tspan dx="2">cs)</tspan></text>
<text x="480.49" y="346.2" font-size="19" fill="#000" textLength="10.2" lengthAdjust="spacingAndGlyphs" style="font-family:'LM Roman 10', 'Latin Modern Roman', 'Liberation Serif', serif;font-size-adjust:cap-height 0.683;font-weight:bold;">(</text>
<text x="490.81" y="347.4" font-size="22" fill="#000" textLength="10.38" lengthAdjust="spacingAndGlyphs" style="font-family:'LM Roman 10', 'Latin Modern Roman', 'Liberation Serif', serif;font-size-adjust:cap-height 0.683;font-weight:bold;stroke:#000;stroke-width:0.8px;">b</text>
<text x="500.6" y="346.2" font-size="19" fill="#000" textLength="9.68" lengthAdjust="spacingAndGlyphs" style="font-family:'LM Roman 10', 'Latin Modern Roman', 'Liberation Serif', serif;font-size-adjust:cap-height 0.683;font-weight:bold;">)</text>
<text x="516.44" y="347.6" font-size="19" fill="#000" textLength="200.76" lengthAdjust="spacingAndGlyphs" style="font-family:'LM Roman 8', 'Latin Modern Roman', 'Liberation Serif', serif;font-size-adjust:cap-height 0.683;">Runtime on Connect-4</text>
<text x="63.2" y="616.3" font-size="13.2" fill="#595959" textLength="28.51" lengthAdjust="spacingAndGlyphs" style="font-family:Carlito, 'Liberation Sans', sans-serif;font-size-adjust:cap-height 0.642;">ARIMA</text>
<text x="112.73" y="616.3" font-size="13.2" fill="#595959" textLength="44.69" lengthAdjust="spacingAndGlyphs" style="font-family:Carlito, 'Liberation Sans', sans-serif;font-size-adjust:cap-height 0.642;">MS-Apriori</text>
<text x="178.3" y="616.3" font-size="13.2" fill="#595959" textLength="27.62" lengthAdjust="spacingAndGlyphs" style="font-family:Carlito, 'Liberation Sans', sans-serif;font-size-adjust:cap-height 0.642;">Apriori</text>
<text x="176.92" y="633.2" font-size="13.2" fill="#595959" textLength="30.25" lengthAdjust="spacingAndGlyphs" style="font-family:Carlito, 'Liberation Sans', sans-serif;font-size-adjust:cap-height 0.642;">Inverse</text>
<text x="224.8" y="616.3" font-size="13.2" fill="#595959" textLength="49.16" lengthAdjust="spacingAndGlyphs" style="font-family:Carlito, 'Liberation Sans', sans-serif;font-size-adjust:cap-height 0.642;">Apriori Rare</text>
<text x="290.03" y="616.3" font-size="13.2" fill="#595959" textLength="33.64" lengthAdjust="spacingAndGlyphs" style="font-family:Carlito, 'Liberation Sans', sans-serif;font-size-adjust:cap-height 0.642;">RP-Tree</text>
<text x="171.13" y="662.8" font-size="13.2" fill="#595959" textLength="100.53" lengthAdjust="spacingAndGlyphs" style="font-family:Carlito, 'Liberation Sans', sans-serif;font-size-adjust:cap-height 0.642;">Minimum Support (%)</text>
<text x="33.53" y="698.3" font-size="13.2" fill="#595959" textLength="53.62" lengthAdjust="spacingAndGlyphs" style="font-family:Carlito, 'Liberation Sans', sans-serif;font-size-adjust:cap-height 0.642;">Minsup=20%</text>
<text x="105.63" y="698.3" font-size="13.2" fill="#595959" textLength="53.43" lengthAdjust="spacingAndGlyphs" style="font-family:Carlito, 'Liberation Sans', sans-serif;font-size-adjust:cap-height 0.642;">Minsup=25%</text>
<text x="177.43" y="698.3" font-size="13.2" fill="#595959" textLength="53.73" lengthAdjust="spacingAndGlyphs" style="font-family:Carlito, 'Liberation Sans', sans-serif;font-size-adjust:cap-height 0.642;">Minsup=30%</text>
<text x="249.43" y="698.3" font-size="13.2" fill="#595959" textLength="53.73" lengthAdjust="spacingAndGlyphs" style="font-family:Carlito, 'Liberation Sans', sans-serif;font-size-adjust:cap-height 0.642;">Minsup=35%</text>
<text x="320.93" y="698.3" font-size="13.2" fill="#595959" textLength="53.13" lengthAdjust="spacingAndGlyphs" style="font-family:Carlito, 'Liberation Sans', sans-serif;font-size-adjust:cap-height 0.642;">Minsup=40%</text>
<text transform="translate(14.11 0) scale(0.81 1) rotate(-90)" x="-527.75" y="0" font-size="12.5" fill="#595959" textLength="90" lengthAdjust="spacing" style="font-family:Carlito, 'Liberation Sans', sans-serif;font-size-adjust:cap-height 0.642;">Runtime (se<tspan dx="2">cs)</tspan></text>
<text x="84.41" y="729.4" font-size="19" fill="#000" textLength="9.99" lengthAdjust="spacingAndGlyphs" style="font-family:'LM Roman 10', 'Latin Modern Roman', 'Liberation Serif', serif;font-size-adjust:cap-height 0.683;font-weight:bold;">(</text>
<text x="93.2" y="730.6" font-size="22" fill="#000" textLength="9.99" lengthAdjust="spacingAndGlyphs" style="font-family:'LM Roman 10', 'Latin Modern Roman', 'Liberation Serif', serif;font-size-adjust:cap-height 0.683;font-weight:bold;stroke:#000;stroke-width:0.8px;">c</text>
<text x="102.58" y="729.4" font-size="19" fill="#000" textLength="9.74" lengthAdjust="spacingAndGlyphs" style="font-family:'LM Roman 10', 'Latin Modern Roman', 'Liberation Serif', serif;font-size-adjust:cap-height 0.683;font-weight:bold;">)</text>
<text x="116.79" y="729.6" font-size="19" fill="#000" textLength="176.97" lengthAdjust="spacingAndGlyphs" style="font-family:'LM Roman 8', 'Latin Modern Roman', 'Liberation Serif', serif;font-size-adjust:cap-height 0.683;">Runtime on Gazelle</text>
<text x="471.2" y="615.3" font-size="13.2" fill="#595959" textLength="27.91" lengthAdjust="spacingAndGlyphs" style="font-family:Carlito, 'Liberation Sans', sans-serif;font-size-adjust:cap-height 0.642;">ARIMA</text>
<text x="519.93" y="615.3" font-size="13.2" fill="#595959" textLength="45.59" lengthAdjust="spacingAndGlyphs" style="font-family:Carlito, 'Liberation Sans', sans-serif;font-size-adjust:cap-height 0.642;">MS-Apriori</text>
<text x="586" y="615.3" font-size="13.2" fill="#595959" textLength="27.81" lengthAdjust="spacingAndGlyphs" style="font-family:Carlito, 'Liberation Sans', sans-serif;font-size-adjust:cap-height 0.642;">Apriori</text>
<text x="584.61" y="632.2" font-size="13.2" fill="#595959" textLength="29.55" lengthAdjust="spacingAndGlyphs" style="font-family:Carlito, 'Liberation Sans', sans-serif;font-size-adjust:cap-height 0.642;">Inverse</text>
<text x="632.59" y="615.3" font-size="13.2" fill="#595959" textLength="48.76" lengthAdjust="spacingAndGlyphs" style="font-family:Carlito, 'Liberation Sans', sans-serif;font-size-adjust:cap-height 0.642;">Apriori Rare</text>
<text x="698.13" y="615.3" font-size="13.2" fill="#595959" textLength="33.23" lengthAdjust="spacingAndGlyphs" style="font-family:Carlito, 'Liberation Sans', sans-serif;font-size-adjust:cap-height 0.642;">RP-Tree</text>
<text x="578.53" y="661.9" font-size="13.2" fill="#595959" textLength="100.33" lengthAdjust="spacingAndGlyphs" style="font-family:Carlito, 'Liberation Sans', sans-serif;font-size-adjust:cap-height 0.642;">Minimum Support (%)</text>
<text x="441.24" y="697" font-size="13.2" fill="#595959" textLength="53.52" lengthAdjust="spacingAndGlyphs" style="font-family:Carlito, 'Liberation Sans', sans-serif;font-size-adjust:cap-height 0.642;">Minsup=20%</text>
<text x="513.13" y="697" font-size="13.2" fill="#595959" textLength="53.52" lengthAdjust="spacingAndGlyphs" style="font-family:Carlito, 'Liberation Sans', sans-serif;font-size-adjust:cap-height 0.642;">Minsup=25%</text>
<text x="584.74" y="697" font-size="13.2" fill="#595959" textLength="53.92" lengthAdjust="spacingAndGlyphs" style="font-family:Carlito, 'Liberation Sans', sans-serif;font-size-adjust:cap-height 0.642;">Minsup=30%</text>
<text x="656.74" y="697" font-size="13.2" fill="#595959" textLength="54.22" lengthAdjust="spacingAndGlyphs" style="font-family:Carlito, 'Liberation Sans', sans-serif;font-size-adjust:cap-height 0.642;">Minsup=35%</text>
<text x="728.24" y="697" font-size="13.2" fill="#595959" textLength="53.62" lengthAdjust="spacingAndGlyphs" style="font-family:Carlito, 'Liberation Sans', sans-serif;font-size-adjust:cap-height 0.642;">Minsup=40%</text>
<text transform="translate(422.45 0) scale(0.92 1) rotate(-90)" x="-527.5" y="0" font-size="12.5" fill="#595959" textLength="89.75" lengthAdjust="spacing" style="font-family:Carlito, 'Liberation Sans', sans-serif;font-size-adjust:cap-height 0.642;">Runtime (se<tspan dx="2">cs)</tspan></text>
<text x="498.37" y="728.4" font-size="19" fill="#000" textLength="8.85" lengthAdjust="spacingAndGlyphs" style="font-family:'LM Roman 10', 'Latin Modern Roman', 'Liberation Serif', serif;font-size-adjust:cap-height 0.683;font-weight:bold;">(</text>
<text x="506.9" y="729.6" font-size="22" fill="#000" textLength="12.09" lengthAdjust="spacingAndGlyphs" style="font-family:'LM Roman 10', 'Latin Modern Roman', 'Liberation Serif', serif;font-size-adjust:cap-height 0.683;font-weight:bold;stroke:#000;stroke-width:0.8px;">d</text>
<text x="518.78" y="728.4" font-size="19" fill="#000" textLength="9.32" lengthAdjust="spacingAndGlyphs" style="font-family:'LM Roman 10', 'Latin Modern Roman', 'Liberation Serif', serif;font-size-adjust:cap-height 0.683;font-weight:bold;">)</text>
<text x="533.79" y="729.6" font-size="19" fill="#000" textLength="165.52" lengthAdjust="spacingAndGlyphs" style="font-family:'LM Roman 8', 'Latin Modern Roman', 'Liberation Serif', serif;font-size-adjust:cap-height 0.683;">Runtime on Retail</text>
<text x="254.89" y="1040" font-size="14" fill="#595959" textLength="33.71" lengthAdjust="spacingAndGlyphs" style="font-family:Carlito, 'Liberation Sans', sans-serif;font-size-adjust:cap-height 0.642;">ARIMA</text>
<text x="308.87" y="1040" font-size="14" fill="#595959" textLength="54.11" lengthAdjust="spacingAndGlyphs" style="font-family:Carlito, 'Liberation Sans', sans-serif;font-size-adjust:cap-height 0.642;">MS-Apriori</text>
<text x="385" y="1040" font-size="14" fill="#595959" textLength="32.81" lengthAdjust="spacingAndGlyphs" style="font-family:Carlito, 'Liberation Sans', sans-serif;font-size-adjust:cap-height 0.642;">Apriori</text>
<text x="383.16" y="1056.5" font-size="14" fill="#595959" textLength="36.46" lengthAdjust="spacingAndGlyphs" style="font-family:Carlito, 'Liberation Sans', sans-serif;font-size-adjust:cap-height 0.642;">Inverse</text>
<text x="450.39" y="1040" font-size="14" fill="#595959" textLength="33.47" lengthAdjust="spacingAndGlyphs" style="font-family:Carlito, 'Liberation Sans', sans-serif;font-size-adjust:cap-height 0.642;">Apriori</text>
<text x="454.71" y="1056.5" font-size="14" fill="#595959" textLength="24.32" lengthAdjust="spacingAndGlyphs" style="font-family:Carlito, 'Liberation Sans', sans-serif;font-size-adjust:cap-height 0.642;">Rare</text>
<text x="512.12" y="1040" font-size="14" fill="#595959" textLength="39.49" lengthAdjust="spacingAndGlyphs" style="font-family:Carlito, 'Liberation Sans', sans-serif;font-size-adjust:cap-height 0.642;">RP-Tree</text>
<text x="370.2" y="1087.5" font-size="14" fill="#595959" textLength="53.76" lengthAdjust="spacingAndGlyphs" style="font-family:Carlito, 'Liberation Sans', sans-serif;font-size-adjust:cap-height 0.642;">Algorithm</text>
<text x="499.09" y="781.1" font-size="14" fill="#595959" textLength="37.73" lengthAdjust="spacingAndGlyphs" style="font-family:Carlito, 'Liberation Sans', sans-serif;font-size-adjust:cap-height 0.642;">Gazelle</text>
<text x="555.55" y="781.1" font-size="14" fill="#595959" textLength="49.31" lengthAdjust="spacingAndGlyphs" style="font-family:Carlito, 'Liberation Sans', sans-serif;font-size-adjust:cap-height 0.642;">Connect-4</text>
<text transform="translate(187.9 0) scale(1.08 1) rotate(-90)" x="-966.25" y="0" font-size="12.8" fill="#595959" textLength="92.75" lengthAdjust="spacing" style="font-family:Carlito, 'Liberation Sans', sans-serif;font-size-adjust:cap-height 0.642;">Runtime (se<tspan dx="2">cs)</tspan></text>
<text x="193.37" y="1116.7" font-size="19" fill="#000" textLength="9.15" lengthAdjust="spacingAndGlyphs" style="font-family:'LM Roman 10', 'Latin Modern Roman', 'Liberation Serif', serif;font-size-adjust:cap-height 0.683;font-weight:bold;">(</text>
<text x="202" y="1117.9" font-size="22" fill="#000" textLength="10.29" lengthAdjust="spacingAndGlyphs" style="font-family:'LM Roman 10', 'Latin Modern Roman', 'Liberation Serif', serif;font-size-adjust:cap-height 0.683;font-weight:bold;stroke:#000;stroke-width:0.8px;">e</text>
<text x="211.76" y="1116.7" font-size="19" fill="#000" textLength="9.23" lengthAdjust="spacingAndGlyphs" style="font-family:'LM Roman 10', 'Latin Modern Roman', 'Liberation Serif', serif;font-size-adjust:cap-height 0.683;font-weight:bold;">)</text>
<text x="227.29" y="1118" font-size="19" fill="#000" textLength="366.86" lengthAdjust="spacingAndGlyphs" style="font-family:'LM Roman 8', 'Latin Modern Roman', 'Liberation Serif', serif;font-size-adjust:cap-height 0.683;">Comparative Analysis of Execution Time</text>
<text x="31.81" y="207.19" font-size="13.8" fill="#595959" textLength="5.27" lengthAdjust="spacingAndGlyphs" style="font-family:Carlito, 'Liberation Sans', sans-serif;font-size-adjust:cap-height 0.642;">0</text>
<text x="26.55" y="184.11" font-size="13.8" fill="#595959" textLength="10.53" lengthAdjust="spacingAndGlyphs" style="font-family:Carlito, 'Liberation Sans', sans-serif;font-size-adjust:cap-height 0.642;">20</text>
<text x="26.55" y="161.03" font-size="13.8" fill="#595959" textLength="10.53" lengthAdjust="spacingAndGlyphs" style="font-family:Carlito, 'Liberation Sans', sans-serif;font-size-adjust:cap-height 0.642;">40</text>
<text x="26.55" y="137.96" font-size="13.8" fill="#595959" textLength="10.53" lengthAdjust="spacingAndGlyphs" style="font-family:Carlito, 'Liberation Sans', sans-serif;font-size-adjust:cap-height 0.642;">60</text>
<text x="26.55" y="114.88" font-size="13.8" fill="#595959" textLength="10.53" lengthAdjust="spacingAndGlyphs" style="font-family:Carlito, 'Liberation Sans', sans-serif;font-size-adjust:cap-height 0.642;">80</text>
<text x="21.28" y="91.81" font-size="13.8" fill="#595959" textLength="15.8" lengthAdjust="spacingAndGlyphs" style="font-family:Carlito, 'Liberation Sans', sans-serif;font-size-adjust:cap-height 0.642;">100</text>
<text x="21.28" y="68.73" font-size="13.8" fill="#595959" textLength="15.8" lengthAdjust="spacingAndGlyphs" style="font-family:Carlito, 'Liberation Sans', sans-serif;font-size-adjust:cap-height 0.642;">120</text>
<text x="21.28" y="45.66" font-size="13.8" fill="#595959" textLength="15.8" lengthAdjust="spacingAndGlyphs" style="font-family:Carlito, 'Liberation Sans', sans-serif;font-size-adjust:cap-height 0.642;">140</text>
<text x="21.28" y="22.58" font-size="13.8" fill="#595959" textLength="15.8" lengthAdjust="spacingAndGlyphs" style="font-family:Carlito, 'Liberation Sans', sans-serif;font-size-adjust:cap-height 0.642;">160</text>
<text x="441.65" y="209.88" font-size="13.8" fill="#595959" textLength="5.11" lengthAdjust="spacingAndGlyphs" style="font-family:Carlito, 'Liberation Sans', sans-serif;font-size-adjust:cap-height 0.642;">0</text>
<text x="436.55" y="186.73" font-size="13.8" fill="#595959" textLength="10.21" lengthAdjust="spacingAndGlyphs" style="font-family:Carlito, 'Liberation Sans', sans-serif;font-size-adjust:cap-height 0.642;">50</text>
<text x="431.44" y="163.58" font-size="13.8" fill="#595959" textLength="15.32" lengthAdjust="spacingAndGlyphs" style="font-family:Carlito, 'Liberation Sans', sans-serif;font-size-adjust:cap-height 0.642;">100</text>
<text x="431.44" y="140.44" font-size="13.8" fill="#595959" textLength="15.32" lengthAdjust="spacingAndGlyphs" style="font-family:Carlito, 'Liberation Sans', sans-serif;font-size-adjust:cap-height 0.642;">150</text>
<text x="431.44" y="117.28" font-size="13.8" fill="#595959" textLength="15.32" lengthAdjust="spacingAndGlyphs" style="font-family:Carlito, 'Liberation Sans', sans-serif;font-size-adjust:cap-height 0.642;">200</text>
<text x="431.44" y="94.13" font-size="13.8" fill="#595959" textLength="15.32" lengthAdjust="spacingAndGlyphs" style="font-family:Carlito, 'Liberation Sans', sans-serif;font-size-adjust:cap-height 0.642;">250</text>
<text x="431.44" y="70.98" font-size="13.8" fill="#595959" textLength="15.32" lengthAdjust="spacingAndGlyphs" style="font-family:Carlito, 'Liberation Sans', sans-serif;font-size-adjust:cap-height 0.642;">300</text>
<text x="431.44" y="47.83" font-size="13.8" fill="#595959" textLength="15.32" lengthAdjust="spacingAndGlyphs" style="font-family:Carlito, 'Liberation Sans', sans-serif;font-size-adjust:cap-height 0.642;">350</text>
<text x="431.44" y="24.68" font-size="13.8" fill="#595959" textLength="15.32" lengthAdjust="spacingAndGlyphs" style="font-family:Carlito, 'Liberation Sans', sans-serif;font-size-adjust:cap-height 0.642;">400</text>
<text x="34.17" y="593.59" font-size="13.8" fill="#595959" textLength="5.4" lengthAdjust="spacingAndGlyphs" style="font-family:Carlito, 'Liberation Sans', sans-serif;font-size-adjust:cap-height 0.642;">0</text>
<text x="23.37" y="570.34" font-size="13.8" fill="#595959" textLength="16.19" lengthAdjust="spacingAndGlyphs" style="font-family:Carlito, 'Liberation Sans', sans-serif;font-size-adjust:cap-height 0.642;">100</text>
<text x="23.37" y="547.09" font-size="13.8" fill="#595959" textLength="16.19" lengthAdjust="spacingAndGlyphs" style="font-family:Carlito, 'Liberation Sans', sans-serif;font-size-adjust:cap-height 0.642;">200</text>
<text x="23.37" y="523.84" font-size="13.8" fill="#595959" textLength="16.19" lengthAdjust="spacingAndGlyphs" style="font-family:Carlito, 'Liberation Sans', sans-serif;font-size-adjust:cap-height 0.642;">300</text>
<text x="23.37" y="500.59" font-size="13.8" fill="#595959" textLength="16.19" lengthAdjust="spacingAndGlyphs" style="font-family:Carlito, 'Liberation Sans', sans-serif;font-size-adjust:cap-height 0.642;">400</text>
<text x="23.37" y="477.34" font-size="13.8" fill="#595959" textLength="16.19" lengthAdjust="spacingAndGlyphs" style="font-family:Carlito, 'Liberation Sans', sans-serif;font-size-adjust:cap-height 0.642;">500</text>
<text x="23.37" y="454.08" font-size="13.8" fill="#595959" textLength="16.19" lengthAdjust="spacingAndGlyphs" style="font-family:Carlito, 'Liberation Sans', sans-serif;font-size-adjust:cap-height 0.642;">600</text>
<text x="23.37" y="430.83" font-size="13.8" fill="#595959" textLength="16.19" lengthAdjust="spacingAndGlyphs" style="font-family:Carlito, 'Liberation Sans', sans-serif;font-size-adjust:cap-height 0.642;">700</text>
<text x="23.37" y="407.58" font-size="13.8" fill="#595959" textLength="16.19" lengthAdjust="spacingAndGlyphs" style="font-family:Carlito, 'Liberation Sans', sans-serif;font-size-adjust:cap-height 0.642;">800</text>
<text x="441.65" y="592.79" font-size="13.8" fill="#595959" textLength="5.12" lengthAdjust="spacingAndGlyphs" style="font-family:Carlito, 'Liberation Sans', sans-serif;font-size-adjust:cap-height 0.642;">0</text>
<text x="431.41" y="566.5" font-size="13.8" fill="#595959" textLength="15.35" lengthAdjust="spacingAndGlyphs" style="font-family:Carlito, 'Liberation Sans', sans-serif;font-size-adjust:cap-height 0.642;">200</text>
<text x="431.41" y="540.21" font-size="13.8" fill="#595959" textLength="15.35" lengthAdjust="spacingAndGlyphs" style="font-family:Carlito, 'Liberation Sans', sans-serif;font-size-adjust:cap-height 0.642;">400</text>
<text x="431.41" y="513.93" font-size="13.8" fill="#595959" textLength="15.35" lengthAdjust="spacingAndGlyphs" style="font-family:Carlito, 'Liberation Sans', sans-serif;font-size-adjust:cap-height 0.642;">600</text>
<text x="431.41" y="487.64" font-size="13.8" fill="#595959" textLength="15.35" lengthAdjust="spacingAndGlyphs" style="font-family:Carlito, 'Liberation Sans', sans-serif;font-size-adjust:cap-height 0.642;">800</text>
<text x="426.29" y="461.36" font-size="13.8" fill="#595959" textLength="20.47" lengthAdjust="spacingAndGlyphs" style="font-family:Carlito, 'Liberation Sans', sans-serif;font-size-adjust:cap-height 0.642;">1000</text>
<text x="426.29" y="435.07" font-size="13.8" fill="#595959" textLength="20.47" lengthAdjust="spacingAndGlyphs" style="font-family:Carlito, 'Liberation Sans', sans-serif;font-size-adjust:cap-height 0.642;">1200</text>
<text x="426.29" y="408.79" font-size="13.8" fill="#595959" textLength="20.47" lengthAdjust="spacingAndGlyphs" style="font-family:Carlito, 'Liberation Sans', sans-serif;font-size-adjust:cap-height 0.642;">1400</text>
<text x="220.8" y="1016.05" font-size="14.3" fill="#595959" textLength="5.96" lengthAdjust="spacingAndGlyphs" style="font-family:Carlito, 'Liberation Sans', sans-serif;font-size-adjust:cap-height 0.642;">0</text>
<text x="208.88" y="993.16" font-size="14.3" fill="#595959" textLength="17.88" lengthAdjust="spacingAndGlyphs" style="font-family:Carlito, 'Liberation Sans', sans-serif;font-size-adjust:cap-height 0.642;">100</text>
<text x="208.88" y="970.27" font-size="14.3" fill="#595959" textLength="17.88" lengthAdjust="spacingAndGlyphs" style="font-family:Carlito, 'Liberation Sans', sans-serif;font-size-adjust:cap-height 0.642;">200</text>
<text x="208.88" y="947.39" font-size="14.3" fill="#595959" textLength="17.88" lengthAdjust="spacingAndGlyphs" style="font-family:Carlito, 'Liberation Sans', sans-serif;font-size-adjust:cap-height 0.642;">300</text>
<text x="208.88" y="924.5" font-size="14.3" fill="#595959" textLength="17.88" lengthAdjust="spacingAndGlyphs" style="font-family:Carlito, 'Liberation Sans', sans-serif;font-size-adjust:cap-height 0.642;">400</text>
<text x="208.88" y="901.61" font-size="14.3" fill="#595959" textLength="17.88" lengthAdjust="spacingAndGlyphs" style="font-family:Carlito, 'Liberation Sans', sans-serif;font-size-adjust:cap-height 0.642;">500</text>
<text x="208.88" y="878.72" font-size="14.3" fill="#595959" textLength="17.88" lengthAdjust="spacingAndGlyphs" style="font-family:Carlito, 'Liberation Sans', sans-serif;font-size-adjust:cap-height 0.642;">600</text>
<text x="208.88" y="855.84" font-size="14.3" fill="#595959" textLength="17.88" lengthAdjust="spacingAndGlyphs" style="font-family:Carlito, 'Liberation Sans', sans-serif;font-size-adjust:cap-height 0.642;">700</text>
<text x="208.88" y="832.95" font-size="14.3" fill="#595959" textLength="17.88" lengthAdjust="spacingAndGlyphs" style="font-family:Carlito, 'Liberation Sans', sans-serif;font-size-adjust:cap-height 0.642;">800</text>
</svg>
</body></html>
